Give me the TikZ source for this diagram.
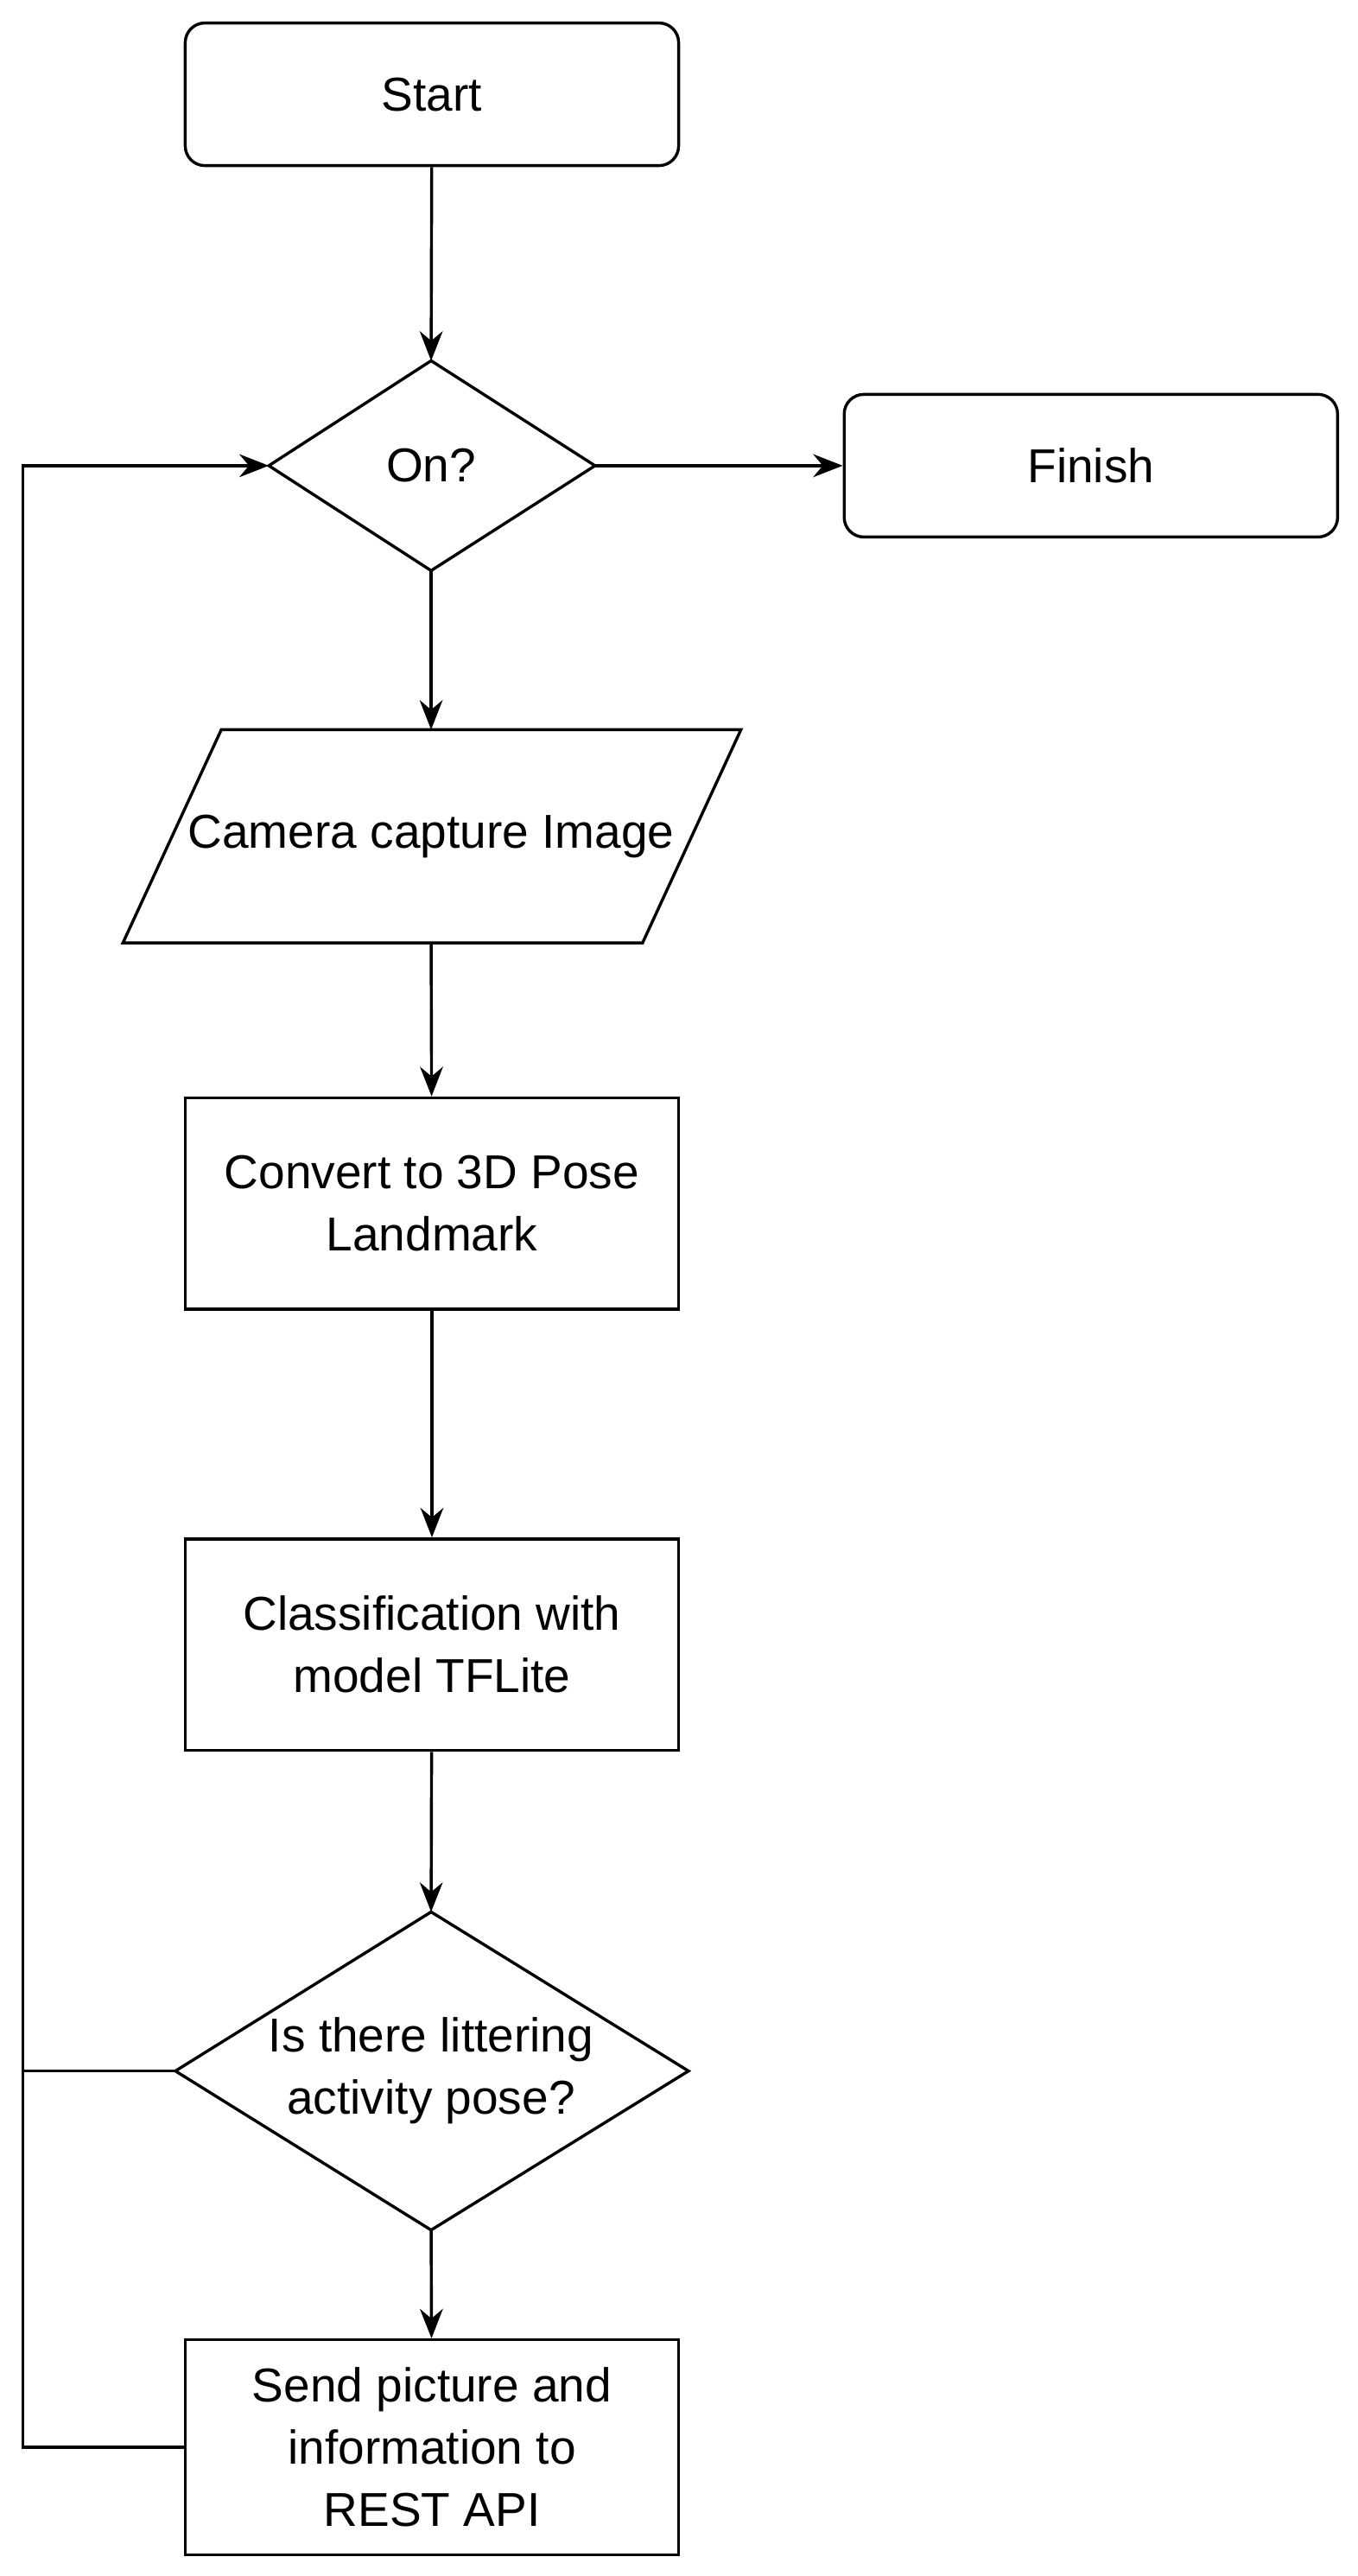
\documentclass[tikz,border=0pt]{standalone}
\usepackage{fontspec}
\setmainfont{Liberation Sans}
\usetikzlibrary{shapes.geometric,arrows.meta}
\begin{document}
\begin{tikzpicture}[x=1pt,y=-1pt,
  every node/.style={font=\fontsize{29}{38}\selectfont,align=center},
  box/.style={draw,line width=1.8pt,minimum width=301pt,minimum height=129pt},
  term/.style={draw,line width=1.8pt,rounded corners=12pt,minimum width=301pt,minimum height=87pt},
  arr/.style={line width=1.8pt,-{Stealth[length=18pt,width=14pt]}},
  ln/.style={line width=1.8pt}]
\useasboundingbox (0,0) rectangle (828,1571);
\node[term] (start) at (263.5,57.5) {Start};
\draw[ln] (164,284) coordinate (onl) -- (263,220) coordinate (ont) -- (363,284) coordinate (onr) -- (263,348) coordinate (onb) -- cycle;
\node (on) at (263,284) {On?};
\node[term] (fin) at (665.5,284) {Finish};
\draw[ln] (135,445) -- (452,445) -- (392,575) -- (75,575) -- cycle;
\node (cam) at (263,510) {Camera capture Image};
\coordinate (camt) at (263,445); \coordinate (camb) at (263,575);
\node[box] (conv) at (263.5,734) {Convert to 3D Pose\\Landmark};
\node[box] (cls) at (263.5,1003) {Classification with\\model TFLite};
\draw[ln] (107,1263) coordinate (dl) -- (263,1166) coordinate (dt) -- (420,1263) -- (263,1360) coordinate (db) -- cycle;
\node (d) at (263,1263) {Is there littering\\activity pose?};
\node[box,minimum height=131pt] (send) at (263.5,1492.5) {Send picture and\\information to\\REST API};
\draw[arr] (start) -- (ont);
\draw[arr] (onr) -- (fin);
\draw[arr] (onb) -- (camt);
\draw[arr] (camb) -- (conv);
\draw[arr] (conv) -- (cls);
\draw[arr] (cls) -- (dt);
\draw[arr] (db) -- (send);
\draw[arr] (dl) -- (14,1263) -- (14,284) -- (onl);
\draw[ln] (send.west) -- (14,1492.5) -- (14,1263);
\end{tikzpicture}
\end{document}
